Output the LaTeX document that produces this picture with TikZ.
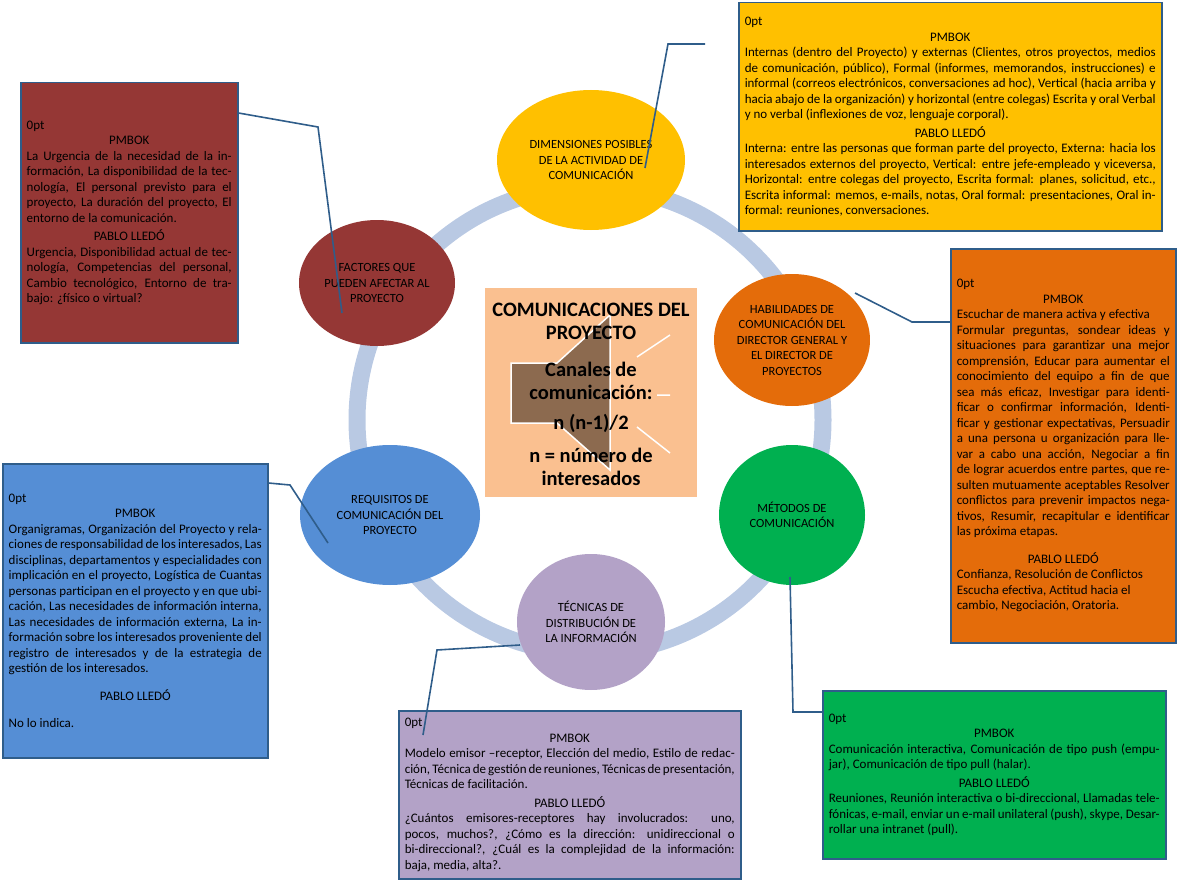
\documentclass[tikz,border=0pt]{standalone}
\usepackage{fontspec}
\setmainfont{Carlito}
\usetikzlibrary{shapes.geometric}
\definecolor{ringc}{HTML}{B9C9E3}
\definecolor{linkc}{HTML}{2F5D8A}
\definecolor{yel}{HTML}{FFC000}
\definecolor{redc}{HTML}{953735}
\definecolor{orc}{HTML}{E46C0A}
\definecolor{grn}{HTML}{00B050}
\definecolor{pur}{HTML}{B3A2C7}
\definecolor{blu}{HTML}{558ED5}
\definecolor{peach}{HTML}{FAC090}
\definecolor{brown}{HTML}{8C6A4F}
\newcommand{\hd}[1]{\par\centerline{#1}}
\begin{document}
\begin{tikzpicture}[x=1pt, y=-1pt,
        topic/.style={ellipse, draw=none, align=center, font=\fontsize{12.5}{15.5}\selectfont, inner sep=0pt},
        box/.style={draw=linkc, line width=1.5pt, anchor=north west, align=justify, font=\fontsize{13}{15.5}\selectfont\hyphenpenalty=10000\exhyphenpenalty=10000, inner sep=6pt},
        link/.style={draw=linkc, line width=1.6pt}]
        \useasboundingbox (0,0) rectangle (1181,880);
        \draw[ringc, line width=17pt] (590,420) circle (233pt);

        % center
        \fill[peach] (485,288) rectangle (697,497);
        \draw[white, line width=1.5pt, fill=brown] (511,363) -- (557,363) -- (610,315) -- (610,470) -- (557,423) -- (511,423) -- cycle;
        \draw[white, line width=1.5pt] (637,357) -- (670,335) (657,395) -- (670,395) (637,427) -- (670,453);
        \node[align=center, font=\fontsize{20.5}{23}\selectfont\bfseries] (C) at (591,394)
            {COMUNICACIONES DEL\\PROYECTO\\[14pt]Canales de\\comunicación:\\[7pt]n (n-1)/2\\[10pt]n = número de\\interesados};

        % topics
        \node[topic, fill=yel, minimum width=188pt, minimum height=140pt] (DIM) at (591,160) {DIMENSIONES POSIBLES\\DE LA ACTIVIDAD DE\\COMUNICACIÓN};
        \node[topic, fill=orc, minimum width=146pt, minimum height=132pt] (HAB) at (792,340) {HABILIDADES DE\\COMUNICACIÓN DEL\\DIRECTOR GENERAL Y\\EL DIRECTOR DE\\PROYECTOS};
        \node[topic, fill=grn, minimum width=146pt, minimum height=140pt] (MET) at (792,515) {MÉTODOS DE\\COMUNICACIÓN};
        \node[topic, fill=pur, minimum width=148pt, minimum height=136pt] (TEC) at (591,622) {TÉCNICAS DE\\DISTRIBUCIÓN DE\\LA INFORMACIÓN};
        \node[topic, fill=blu, minimum width=180pt, minimum height=140pt] (REQ) at (390,515) {REQUISITOS DE\\COMUNICACIÓN DEL\\PROYECTO};
        \node[topic, fill=redc, minimum width=156pt, minimum height=126pt] (FAC) at (377,283) {FACTORES QUE\\PUEDEN AFECTAR AL\\PROYECTO};

        % boxes
        \node[box, fill=yel, text width=411pt, minimum height=228pt] (BDIM) at (738,2) {\hd{PMBOK}
            Internas (dentro del Proyecto) y externas (Clientes, otros proyectos, medios de comunicación, público), Formal (informes, memorandos, instrucciones) e informal (correos electrónicos, conversaciones ad hoc), Vertical (hacia arriba y hacia abajo de la organización) y horizontal (entre colegas) Escrita y oral Verbal y no verbal (inflexiones de voz, lenguaje corporal).
            \par\smallskip\hd{PABLO LLEDÓ}
            Interna: entre las personas que forman parte del proyecto, Externa: hacia los interesados externos del proyecto, Vertical: entre jefe-empleado y viceversa, Horizontal: entre colegas del proyecto, Escrita formal: planes, solicitud, etc., Escrita informal: memos, e-mails, notas, Oral formal: presentaciones, Oral informal: reuniones, conversaciones.};
        \node[box, fill=orc, text width=213pt, minimum height=394pt] (BHAB) at (950,248) {\hd{PMBOK}
            Escuchar de manera activa y efectiva\\
            Formular preguntas, sondear ideas y situaciones para garantizar una mejor comprensión, Educar para aumentar el conocimiento del equipo a fin de que sea más eficaz, Investigar para identificar o confirmar información, Identificar y gestionar expectativas, Persuadir a una persona u organización para llevar a cabo una acción, Negociar a fin de lograr acuerdos entre partes, que resulten mutuamente aceptables Resolver conflictos para prevenir impactos negativos, Resumir, recapitular e identificar las próxima etapas.
            \par\bigskip\hd{PABLO LLEDÓ}
            Confianza, Resolución de Conflictos\\Escucha efectiva, Actitud hacia el\\cambio, Negociación, Oratoria.};
        \node[box, fill=grn, text width=331pt, minimum height=168pt] (BMET) at (822,690) {\hd{PMBOK}
            Comunicación interactiva, Comunicación de tipo push (empujar), Comunicación de tipo pull (halar).
            \par\smallskip\hd{PABLO LLEDÓ}
            Reuniones, Reunión interactiva o bi-direccional, Llamadas telefónicas, e-mail, enviar un e-mail unilateral (push), skype, Desarrollar una intranet (pull).};
        \node[box, fill=pur, text width=330pt, minimum height=168pt] (BTEC) at (398,710) {\hd{PMBOK}
            Modelo emisor --receptor, Elección del medio, Estilo de redacción, Técnica de gestión de reuniones, Técnicas de presentación, Técnicas de facilitación.
            \par\smallskip\hd{PABLO LLEDÓ}
            ¿Cuántos emisores-receptores hay involucrados: uno, pocos, muchos?, ¿Cómo es la dirección: unidireccional o bi-direccional?, ¿Cuál es la complejidad de la información: baja, media, alta?.};
        \node[box, fill=blu, text width=253pt, minimum height=294pt] (BREQ) at (2,463) {\hd{PMBOK}
            Organigramas, Organización del Proyecto y relaciones de responsabilidad de los interesados, Las disciplinas, departamentos y especialidades con implicación en el proyecto, Logística de Cuantas personas participan en el proyecto y en que ubicación, Las necesidades de información interna, Las necesidades de información externa, La información sobre los interesados proveniente del registro de interesados y de la estrategia de gestión de los interesados.
            \par\bigskip\hd{PABLO LLEDÓ}\bigskip
            No lo indica.};
        \node[box, fill=redc, text width=205pt, minimum height=260pt] (BFAC) at (20,82) {\hd{PMBOK}
            La Urgencia de la necesidad de la información, La disponibilidad de la tecnología, El personal previsto para el proyecto, La duración del proyecto, El entorno de la comunicación.
            \par\smallskip\hd{PABLO LLEDÓ}
            Urgencia, Disponibilidad actual de tecnología, Competencias del personal, Cambio tecnológico, Entorno de trabajo: ¿físico o virtual?};

        % links
        \coordinate (d1) at (705,44);
        \coordinate (t1) at (423,735);
        \draw[link] (d1) -- (668,44) -- (645,168);
        \draw[link] (BFAC.north east |- 0,113) -- (318,127) -- (342,313);
        \draw[link] (BHAB.west |- 0,322) -- (912,322) -- (855,293);
        \draw[link] (BREQ.north east |- 0,483) -- (290,485) -- (328,543);
        \draw[link] (t1) -- (437,650) -- (520,645);
        \draw[link] (BMET.west |- 0,712) -- (793,712) -- (790,577);
    \end{tikzpicture}
\end{document}
